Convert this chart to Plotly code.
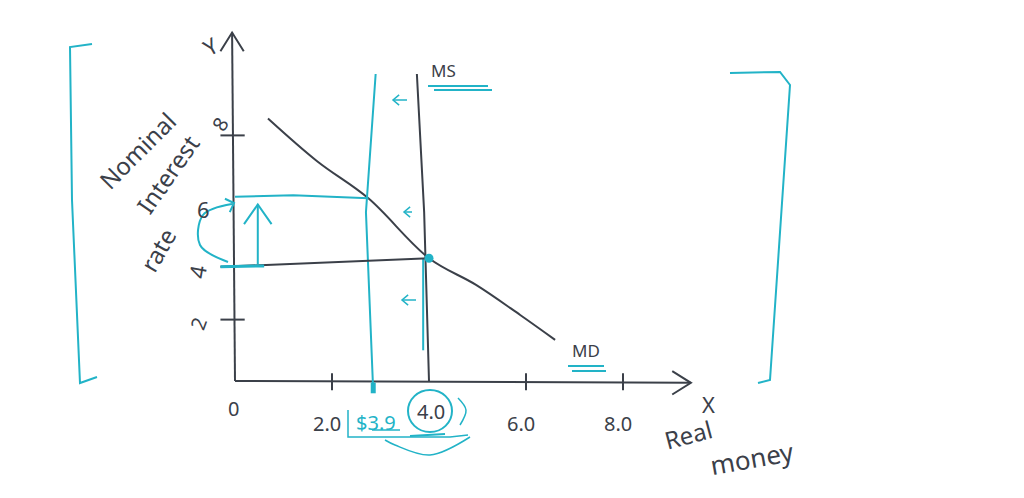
import math
import plotly.graph_objects as go

# money market sketch values
md_x = [0.68, 1.7, 2.75, 4.0, 4.97, 5.88, 6.6]
md_y = [8.55, 7.15, 5.95, 4.0, 3.13, 2.15, 1.34]
ms_old = 4.0
ms_new = 2.75
ms_top = 10.0
rate_old = [3.72, 4.0]
rate_new = [6.0, 5.95]
x_ticks = [2.0, 6.0, 8.0]
x_tick_text = ["2.0", "6.0", "8.0"]
y_ticks = [2, 8]
y_tick_text = ["2", "8"]
x_end = 9.4
y_end = 11.35

INK = "#3b4049"
CYAN = "#22b3c7"
FONT = "Noto Sans"

# pixel <-> data helpers (margin 0, axes fill the page)
X0, Y0, KX, KY = 235, 381, 48.5, 30.7


def dx(px):
    return (px - X0) / KX


def dy(py):
    return (Y0 - py) / KY


def chevron(x, y, angle, size=16, spread=32):
    # open arrow head with tip at (x, y); angle in degrees, screen space
    xs, ys = [], []
    for s in (spread, -spread):
        a = math.radians(angle + 180 + s)
        xs.append(x + size * math.cos(a) / KX)
        ys.append(y + size * math.sin(a) / KY)
    return [xs[0], x, xs[1]], [ys[0], y, ys[1]]


fig = go.Figure()


def line(x, y, color=INK, width=2, shape="linear"):
    fig.add_trace(go.Scatter(x=x, y=y, mode="lines", hoverinfo="skip",
                             line=dict(color=color, width=width, shape=shape),
                             showlegend=False))


# axes
line([0, x_end], [0, -0.06])
line([0, -0.06], [0, y_end])
cx, cy = chevron(x_end, -0.06, 0, 22)
line(cx, cy)
cx, cy = chevron(-0.06, y_end, 90, 22)
line(cx, cy)

# tick dashes
for t in x_ticks:
    line([t, t], [-0.3, 0.25])
for t in y_ticks:
    line([-0.3, 0.2], [t, t])

# money demand
line(md_x, md_y, shape="spline")

# money supply (old, black) and new (cyan)
line([ms_old - 0.25, ms_old - 0.1, ms_old], [ms_top, 5.5, 0])
line([ms_new + 0.15, ms_new - 0.05, ms_new + 0.1], [ms_top, 5.5, -0.35], color=CYAN)
line([ms_new + 0.1, ms_new + 0.1], [-0.05, -0.4], color=CYAN, width=5)
line([ms_old - 0.12, ms_old - 0.12], [rate_old[1], 1.0], color=CYAN, width=2)

# interest rate levels
line([0, 1.2, ms_new], [rate_new[0], 6.05, rate_new[1]], color=CYAN)
line([-0.3, ms_old], rate_old, color=INK)
line([-0.3, 0.6], [3.72, 3.75], color=CYAN, width=3)
fig.add_trace(go.Scatter(x=[ms_old], y=[rate_old[1]], mode="markers",
                         marker=dict(color=CYAN, size=9), showlegend=False,
                         hoverinfo="skip"))

# rising rate arrow
line([0.47, 0.47], [3.8, 5.75], color=CYAN)
cx, cy = chevron(0.47, 5.75, 90, 24, 35)
line(cx, cy, color=CYAN)

# curved arrow 4 -> 6
line([dx(228), dx(200), dx(203), dx(232)],
     [dy(262), dy(245), dy(215), dy(204)], color=CYAN, shape="spline")
cx, cy = chevron(dx(234), dy(203), 20, 10, 45)
line(cx, cy, color=CYAN)

# small shift arrows
for px, py, w in [(393, 100, 14), (404, 212, 8), (402, 300, 14)]:
    line([dx(px), dx(px + w)], [dy(py), dy(py)], color=CYAN, width=1.5)
    cx, cy = chevron(dx(px), dy(py), 180, 8, 40)
    line(cx, cy, color=CYAN, width=1.5)

# brackets
line([dx(92), dx(70), dx(72), dx(80), dx(97)],
     [dy(44), dy(47), dy(200), dy(383), dy(377)], color=CYAN)
line([dx(730), dx(780), dx(790), dx(780), dx(770), dx(758)],
     [dy(73), dy(72), dy(85), dy(230), dy(380), dy(383)], color=CYAN)

# underlines for MS / MD
line([dx(428), dx(488)], [dy(86), dy(86)], color=CYAN, width=2)
line([dx(434), dx(492)], [dy(90), dy(90)], color=CYAN, width=2)
line([dx(568), dx(604)], [dy(366), dy(366)], color=CYAN, width=2)
line([dx(572), dx(606)], [dy(371), dy(371)], color=CYAN, width=2)

# circle around 4.0 and loop back to 3.9
fig.add_shape(type="circle", xref="x", yref="y",
              x0=dx(408), x1=dx(452), y0=dy(432), y1=dy(390),
              line=dict(color=CYAN, width=2))
line([dx(458), dx(466), dx(460)], [dy(398), dy(410), dy(425)],
     color=CYAN, width=1.5, shape="spline")
line([dx(348), dx(348), dx(450), dx(468)],
     [dy(410), dy(437), dy(437), dy(435)], color=CYAN, width=1.5)
line([dx(470), dx(430), dx(395), dx(385)],
     [dy(437), dy(455), dy(445), dy(440)], color=CYAN, width=1.5, shape="spline")
line([dx(372), dx(400)], [dy(430), dy(430)], color=CYAN, width=1.5)
line([dx(410), dx(445)], [dy(436), dy(434)], color=CYAN, width=2)

annotations = []


def text(s, x, y, size=20, color=INK, angle=0):
    annotations.append(dict(text=s, x=x, y=y, xref="x", yref="y",
                            showarrow=False, textangle=angle,
                            font=dict(family=FONT, size=size, color=color)))


text("0", dx(233), dy(408))
for t, s in zip(x_ticks, x_tick_text):
    text(s, t - 0.1, dy(423))
text("4.0", ms_old + 0.05, dy(411))
text("$3.9", ms_new + 0.15, dy(422), color=CYAN)
for t, s in zip(y_ticks, y_tick_text):
    text(s, dx(198) if t == 2 else dx(220),
         t - 0.15 if t == 2 else t + 0.35, angle=-70 if t == 2 else -60)
text("6", dx(203), dy(209), size=22)
text("4", dx(197), dy(272), angle=-80, size=22)
text("Y", dx(210), dy(46), angle=-30, size=22)
text("X", dx(708), dy(404), size=22)
text("Real", dx(688), dy(434), angle=-15, size=24)
text("money", dx(752), dy(458), angle=-10, size=26)
text("MS", dx(443), dy(70), size=17)
text("MD", dx(586), dy(350), size=17)
text("Nominal", dx(137), dy(150), size=24, angle=-45)
text("Interest", dx(167), dy(174), size=24, angle=-55)
text("rate", dx(157), dy(250), size=24, angle=-60)

fig.update_layout(
    width=1024, height=498,
    margin=dict(l=0, r=0, t=0, b=0),
    paper_bgcolor="white", plot_bgcolor="white",
    xaxis=dict(range=[dx(0), dx(1024)], visible=False),
    yaxis=dict(range=[dy(498), dy(0)], visible=False),
    annotations=annotations,
    showlegend=False,
)

fig.write_html("out.html", config={"displayModeBar": False},
               post_script="document.body.style.margin='0';")
